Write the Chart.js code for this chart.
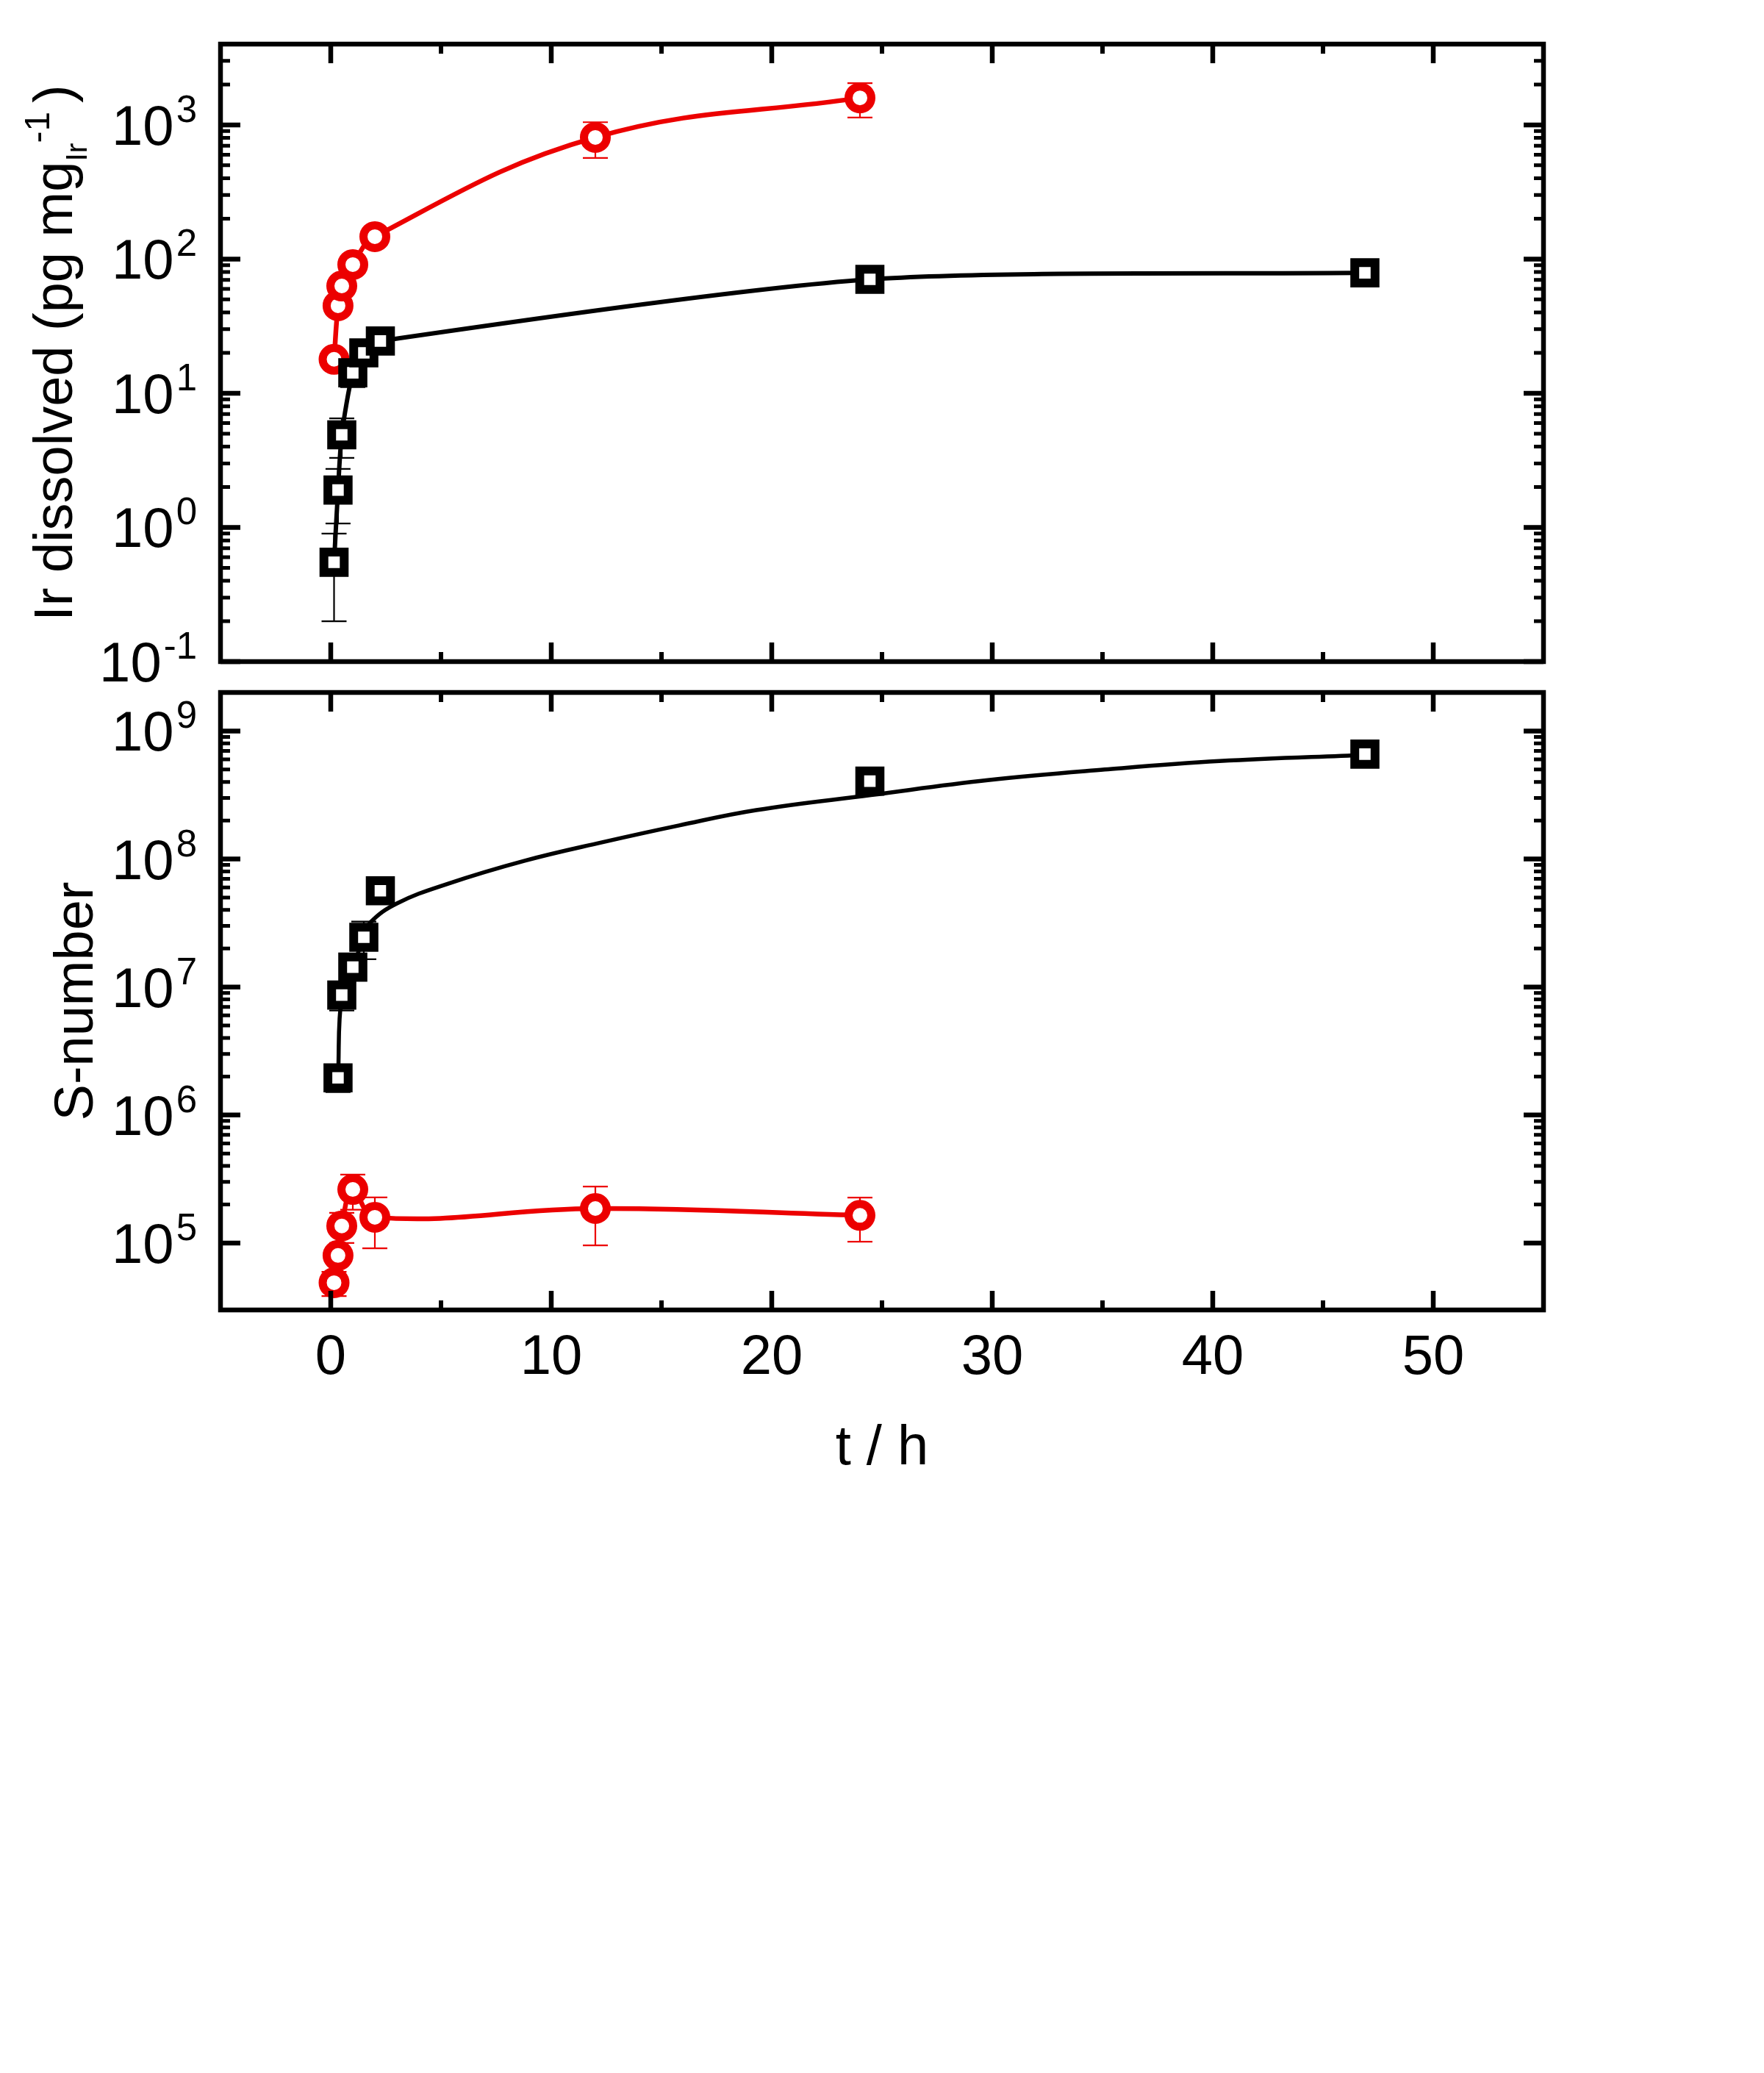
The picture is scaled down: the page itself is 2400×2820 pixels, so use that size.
<!DOCTYPE html>
<html>
<head>
<meta charset="utf-8">
<script src="https://cdn.jsdelivr.net/npm/chart.js@4.4.1/dist/chart.umd.min.js"></script>
<style>
  body { margin: 0; background: #fff; width: 2400px; height: 2820px; position: relative; overflow: hidden; }
  canvas { position: absolute; left: 0; }
</style>
</head>
<body>
<canvas id="irChart" width="2400" height="940" style="top:0px"></canvas>
<canvas id="sChart" width="2400" height="1200" style="top:900px"></canvas>
<script>
// ---- data ----
// top panel: Ir dissolved (pg mg_Ir^-1)
const blackIrT   = [0.15, 0.33, 0.5, 1, 1.5, 2.25, 24.45, 46.9];
const blackIr    = [0.55, 1.9, 4.9, 14.2, 20, 24.5, 70.6, 79];
const blackIrErr = [0.35, 0.83, 1.6, 3.1, 2.5, 2.5, 6, 6];

const redIrT   = [0.15, 0.33, 0.5, 1, 2, 12, 24];
const redIr    = [17.9, 44.9, 63, 91, 147, 807, 1590];
const redIrErr = [1.5, 3, 4, 6, 10, 240, 455];

// bottom panel: S-number
const blackST   = [0.33, 0.5, 1, 1.5, 2.25, 24.45, 46.9];
const blackS    = [1.95e6, 8.65e6, 1.43e7, 2.45e7, 5.65e7, 4.06e8, 6.6e8];
const blackSErr = [0.44e6, 2.1e6, 1.5e6, 8e6, 5e6, 3e7, 3e7];

// smoothed line drawn through the black S-number points
const blackSCurveT = [0.33, 0.5, 1, 1.5, 1.8, 3, 5.3, 8.8, 12.3, 15.8, 19.3, 24.5, 29.8, 35.1, 40.3, 46.9];
const blackSCurve  = [1.95e6, 8.65e6, 1.43e7, 2.45e7, 3.2e7, 4.5e7, 6.4e7, 9.7e7, 1.35e8, 1.83e8, 2.41e8, 3.16e8, 4.13e8, 5.0e8, 5.82e8, 6.5e8];

const redST   = [0.15, 0.33, 0.5, 1, 2, 12, 24];
const redS    = [4.9e4, 8.0e4, 1.36e5, 2.62e5, 1.59e5, 1.86e5, 1.645e5];
const redSErr = [1.05e4, 1e4, 3.6e4, 8e4, 6.8e4, 9e4, 6.2e4];

// axes
const xMajorTicks = [0, 10, 20, 30, 40, 50];
const xMinorTicks = [5, 15, 25, 35, 45];
const xTickLabels = ['0', '10', '20', '30', '40', '50'];
const irExponents = ['-1', '0', '1', '2', '3'];
const sExponents  = ['5', '6', '7', '8', '9'];

const FONT = '"Liberation Sans", Arial, sans-serif';
const RED = '#ec0000';

const pts = (xs, ys) => xs.map((x, i) => ({ x: x, y: ys[i] }));

function minorLog(exps, min, max) {
  const out = [];
  for (const e of exps.map(Number).concat([Number(exps[exps.length - 1]) + 1])) {
    for (let m = 2; m <= 9; m++) {
      const v = m * Math.pow(10, e);
      if (v > min && v < max) out.push(v);
    }
  }
  return out;
}

// error bars, drawn before the datasets so markers sit on top
const errorBars = {
  id: 'errorBars',
  beforeDatasetsDraw(chart) {
    const { ctx } = chart;
    const xs = chart.scales.x, ys = chart.scales.y;
    ctx.save();
    chart.data.datasets.forEach(ds => {
      if (!ds.errors) return;
      ctx.strokeStyle = ds.pointBorderColor;
      ctx.lineWidth = 2.2;
      ds.data.forEach((p, i) => {
        const e = ds.errors[i];
        const px = xs.getPixelForValue(p.x);
        const top = ys.getPixelForValue(p.y + e);
        const bot = ys.getPixelForValue(Math.max(p.y - e, ys.min));
        ctx.beginPath();
        ctx.moveTo(px, top); ctx.lineTo(px, bot);
        ctx.moveTo(px - 17, top); ctx.lineTo(px + 17, top);
        if (p.y - e > ys.min) { ctx.moveTo(px - 17, bot); ctx.lineTo(px + 17, bot); }
        ctx.stroke();
      });
    });
    ctx.restore();
  }
};

function drawRich(ctx, segs, baseX, cy) {
  let total = 0;
  for (const s of segs) {
    ctx.font = s.size + 'px ' + FONT;
    s.w = ctx.measureText(s.text).width + (s.gap || 0);
    total += s.w;
  }
  ctx.save();
  ctx.translate(baseX, cy);
  ctx.rotate(-Math.PI / 2);
  ctx.textAlign = 'left';
  ctx.textBaseline = 'alphabetic';
  let x = -total / 2;
  for (const s of segs) {
    ctx.font = s.size + 'px ' + FONT;
    ctx.fillText(s.text, x + (s.gap || 0), s.dy || 0);
    x += s.w;
  }
  ctx.restore();
}

// frame, inward ticks on all four sides, tick labels and titles
const frameAxes = {
  id: 'frameAxes',
  afterDraw(chart, args, o) {
    const { ctx, chartArea: a } = chart;
    const xs = chart.scales.x, ys = chart.scales.y;
    ctx.save();
    ctx.strokeStyle = '#000';
    ctx.fillStyle = '#000';
    ctx.lineCap = 'butt';

    const xTick = (v, len, w) => {
      const px = xs.getPixelForValue(v);
      ctx.lineWidth = w;
      ctx.beginPath();
      ctx.moveTo(px, a.bottom); ctx.lineTo(px, a.bottom - len);
      ctx.moveTo(px, a.top); ctx.lineTo(px, a.top + len);
      ctx.stroke();
    };
    const yTick = (v, len, w) => {
      const py = ys.getPixelForValue(v);
      ctx.lineWidth = w;
      ctx.beginPath();
      ctx.moveTo(a.left, py); ctx.lineTo(a.left + len, py);
      ctx.moveTo(a.right, py); ctx.lineTo(a.right - len, py);
      ctx.stroke();
    };
    xMajorTicks.forEach(v => xTick(v, 26, 6.5));
    xMinorTicks.forEach(v => xTick(v, 13, 6));
    o.exps.forEach(e => yTick(Math.pow(10, Number(e)), 27, 6.5));
    minorLog(o.exps, ys.min, ys.max).forEach(v => yTick(v, 13, 5));

    ctx.lineWidth = 6.5;
    ctx.lineJoin = 'miter';
    ctx.strokeRect(a.left, a.top, a.right - a.left, a.bottom - a.top);

    // y tick labels 10^n
    ctx.textBaseline = 'alphabetic';
    ctx.textAlign = 'left';
    o.exps.forEach(e => {
      const py = ys.getPixelForValue(Math.pow(10, Number(e)));
      ctx.font = '76px ' + FONT;
      const wb = ctx.measureText('10').width;
      ctx.font = '51px ' + FONT;
      const we = ctx.measureText(e).width;
      const x0 = a.left - 32 - we - wb - 3;
      ctx.font = '76px ' + FONT;
      ctx.fillText('10', x0, py + 27);
      ctx.font = '51px ' + FONT;
      ctx.fillText(e, x0 + wb + 3, py + 27 - 31);
    });

    if (o.xLabels) {
      ctx.textAlign = 'center';
      ctx.font = '76px ' + FONT;
      xMajorTicks.forEach((v, i) => {
        ctx.fillText(xTickLabels[i], xs.getPixelForValue(v), a.bottom + 87);
      });
      ctx.font = '76px ' + FONT;
      ctx.fillText('t / h', (a.left + a.right) / 2, a.bottom + 210);
    }

    drawRich(ctx, o.title, o.titleX, (a.top + a.bottom) / 2);
    ctx.restore();
  }
};

function baseOptions(yMin, yMax, padding, plug) {
  return {
    responsive: false,
    animation: false,
    devicePixelRatio: 1,
    events: [],
    layout: { padding: padding },
    plugins: { legend: { display: false }, tooltip: { enabled: false }, frameAxes: plug },
    scales: {
      x: { type: 'linear', display: false, min: -5, max: 55 },
      y: { type: 'logarithmic', display: false, min: yMin, max: yMax }
    }
  };
}

const blackStyle = {
  pointStyle: 'rect', pointRadius: 19.5, pointBorderWidth: 12,
  pointBackgroundColor: '#fff', pointBorderColor: '#000',
  borderColor: '#000', borderWidth: 6
};
const redStyle = {
  pointStyle: 'circle', pointRadius: 15.5, pointBorderWidth: 11,
  pointBackgroundColor: '#fff', pointBorderColor: RED,
  borderColor: RED, borderWidth: 6.5
};

new Chart(document.getElementById('irChart'), {
  type: 'scatter',
  data: {
    datasets: [
      Object.assign({ data: pts(blackIrT, blackIr), errors: blackIrErr, showLine: true, tension: 0.25 }, blackStyle),
      Object.assign({ data: pts(redIrT, redIr), errors: redIrErr, showLine: true, tension: 0.4 }, redStyle)
    ]
  },
  options: baseOptions(0.1, 4000, { left: 300, right: 300, top: 60, bottom: 40 }, {
    exps: irExponents,
    xLabels: false,
    titleX: 98,
    title: [
      { text: 'Ir dissolved (pg mg', size: 74 },
      { text: 'Ir', size: 41, dy: 20 },
      { text: '-1', size: 48, dy: -31 },
      { text: ')', size: 74, gap: 12 }
    ]
  }),
  plugins: [errorBars, frameAxes]
});

new Chart(document.getElementById('sChart'), {
  type: 'scatter',
  data: {
    datasets: [
      Object.assign({ data: pts(blackST, blackS), errors: blackSErr, showLine: false }, blackStyle),
      { data: pts(blackSCurveT, blackSCurve), showLine: true, tension: 0.4,
        pointRadius: 0, borderColor: '#000', borderWidth: 5.5 },
      Object.assign({ data: pts(redST, redS), errors: redSErr, showLine: true, tension: 0.4 }, redStyle)
    ]
  },
  options: baseOptions(3e4, 2e9, { left: 300, right: 300, top: 42, bottom: 318 }, {
    exps: sExponents,
    xLabels: true,
    titleX: 126,
    title: [{ text: 'S-number', size: 74 }]
  }),
  plugins: [errorBars, frameAxes]
});
</script>
</body>
</html>
